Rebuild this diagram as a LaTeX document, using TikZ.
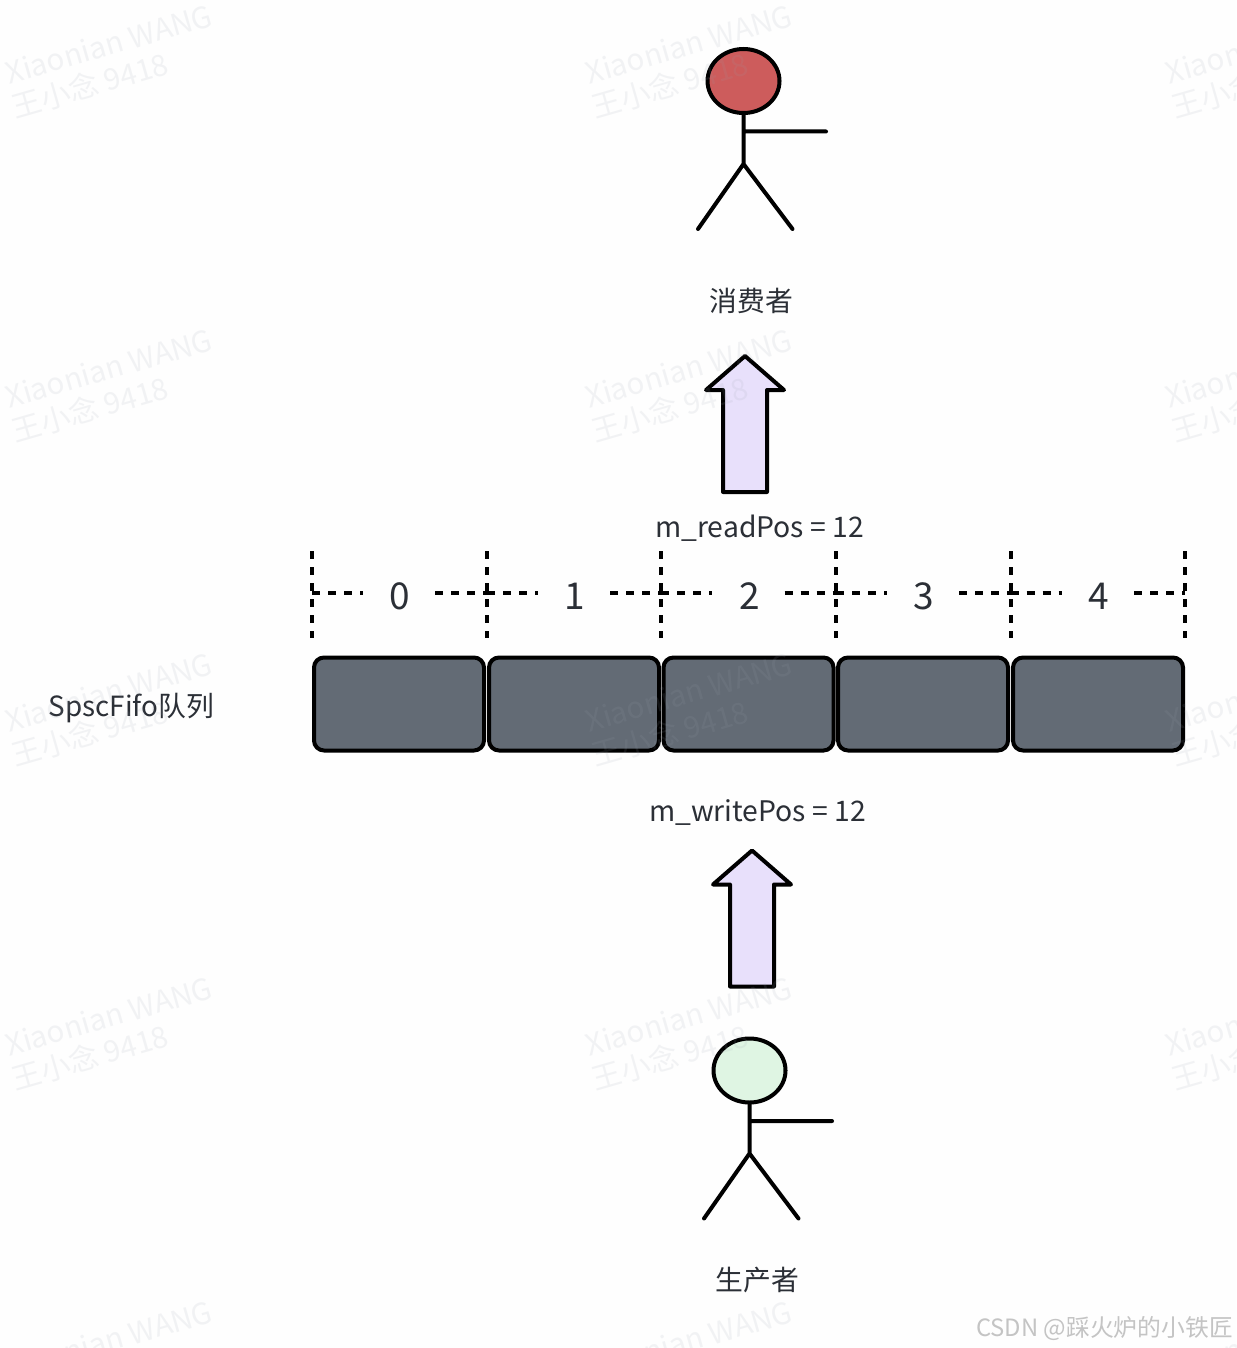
\documentclass[tikz,border=0pt]{standalone}
\usepackage{fontspec}
\setmainfont{Noto Sans CJK SC}
\usetikzlibrary{calc}
\definecolor{inkc}{HTML}{2B2F36}
\definecolor{cellc}{HTML}{636B75}
\definecolor{arrowc}{HTML}{E8E0FB}
\definecolor{redc}{HTML}{CD5C5C}
\definecolor{greenc}{HTML}{DFF5E3}
\definecolor{wmc}{HTML}{9AA2AE}
\definecolor{csdnc}{HTML}{C4C4C4}
\tikzset{
  x=1pt,y=-1pt,
  lab/.style={text=inkc,inner sep=0pt,font=\fontsize{28.3}{34}\selectfont},
  cjklab/.style={text=inkc,inner sep=0pt,font=\fontsize{27.8}{34}\selectfont},
  digit/.style={text=inkc,inner sep=0pt,minimum width=72pt,minimum height=0pt,text height=32pt,text depth=0pt,font=\fontsize{37}{40}\selectfont},
  cellbox/.style={draw=black,line width=4pt,fill=cellc,rounded corners=10pt,minimum width=170pt,minimum height=93pt,inner sep=0pt},
  tick/.style={draw=black,line width=4pt,dash pattern=on 8pt off 8pt},
  stick/.style={draw=black,line width=4pt,line cap=round,line join=round},
  bigarrow/.style={draw=black,line width=4pt,line join=round,fill=arrowc},
  wm/.style={text=wmc,opacity=.12,inner sep=0pt,rotate=16,font=\fontsize{29.6}{36}\selectfont},
}
\newcommand{\stickman}[4]{% name, x, y offset, colour
  \begin{scope}[shift={(#2,#3)}]
    \coordinate (#1neck) at (743.5,113);
    \coordinate (#1arm) at (743.5,131.5);
    \coordinate (#1hand) at (826,131.5);
    \coordinate (#1hip) at (743.5,164);
    \coordinate (#1lf) at (698,229);
    \coordinate (#1rf) at (792.5,229);
    \draw[stick] (#1neck) -- (#1hip) (#1arm) -- (#1hand) (#1lf) -- (#1hip) -- (#1rf);
    \draw[stick,fill=#4] (743.5,81) ellipse [x radius=36,y radius=32];
  \end{scope}
}
\newcommand{\upwardarrow}[2]{% x, y offset
  \draw[bigarrow,shift={(#1,#2)}] (745,356) -- (784,390) -- (767,390) -- (767,492) -- (723,492) -- (723,390) -- (706,390) -- cycle;
}
\begin{document}
\begin{tikzpicture}
\useasboundingbox (0,0) rectangle (1236,1348);
\fill[white!99.6!black] (0,0) rectangle (1236,1348);

% upper figure and lower figure
\stickman{c}{0}{0}{redc}
\stickman{p}{6}{989.5}{greenc}
\node[cjklab] (consumer) at (751.5,300.5) {消费者};
\node[cjklab] (producer) at (757.5,1280.5) {生产者};

\upwardarrow{0}{0}
\upwardarrow{7}{494.5}

\node[lab] (readpos) at (759.5,528) {m\_readPos = 12};
\node[lab] (writepos) at (757.5,812.5) {m\_writePos = 12};
\node[cjklab] (queue) at (131.5,708) {SpscFifo队列};

% ticks
\foreach \n/\x in {0/312,1/487,2/661,3/836,4/1010.5,5/1185}{
  \coordinate (tt\n) at (\x,551);
  \coordinate (tb\n) at (\x,638);
  \coordinate (tm\n) at (\x,593);
  \draw[tick] (tt\n) -- (tb\n);
}
% index spans
\foreach \n/\m/\x in {0/1/399,1/2/574,2/3/748.5,3/4/923,4/5/1098}{
  \node[digit] (idx\n) at (\x,593) {\hspace{2pt}\n};
  \draw[tick] (tm\n) -- (idx\n.west);
  \draw[tick] (idx\n.east) -- (tm\m);
}
% cells
\foreach \n/\x in {0/399,1/574,2/748.5,3/923,4/1098}{
  \node[cellbox] (cell\n) at (\x,704) {};
}

\node[text=csdnc,inner sep=0pt,font=\fontsize{23.8}{30}\selectfont] (csdn) at (1104.5,1328) {CSDN @踩火炉的小铁匠};

% watermark tiles
\begin{scope}
\clip (0,0) rectangle (1236,1348);
\foreach \i in {0,1,2}{
  \foreach \j in {0,1,2,3,4}{
    \node[wm] (wma\i\j) at ({109+580*\i},{44+324*\j}) {Xiaonian WANG};
    \node[wm] (wmb\i\j) at ({90+580*\i},{85+324*\j}) {王小念 9418};
  }
}
\end{scope}
\end{tikzpicture}
\end{document}
